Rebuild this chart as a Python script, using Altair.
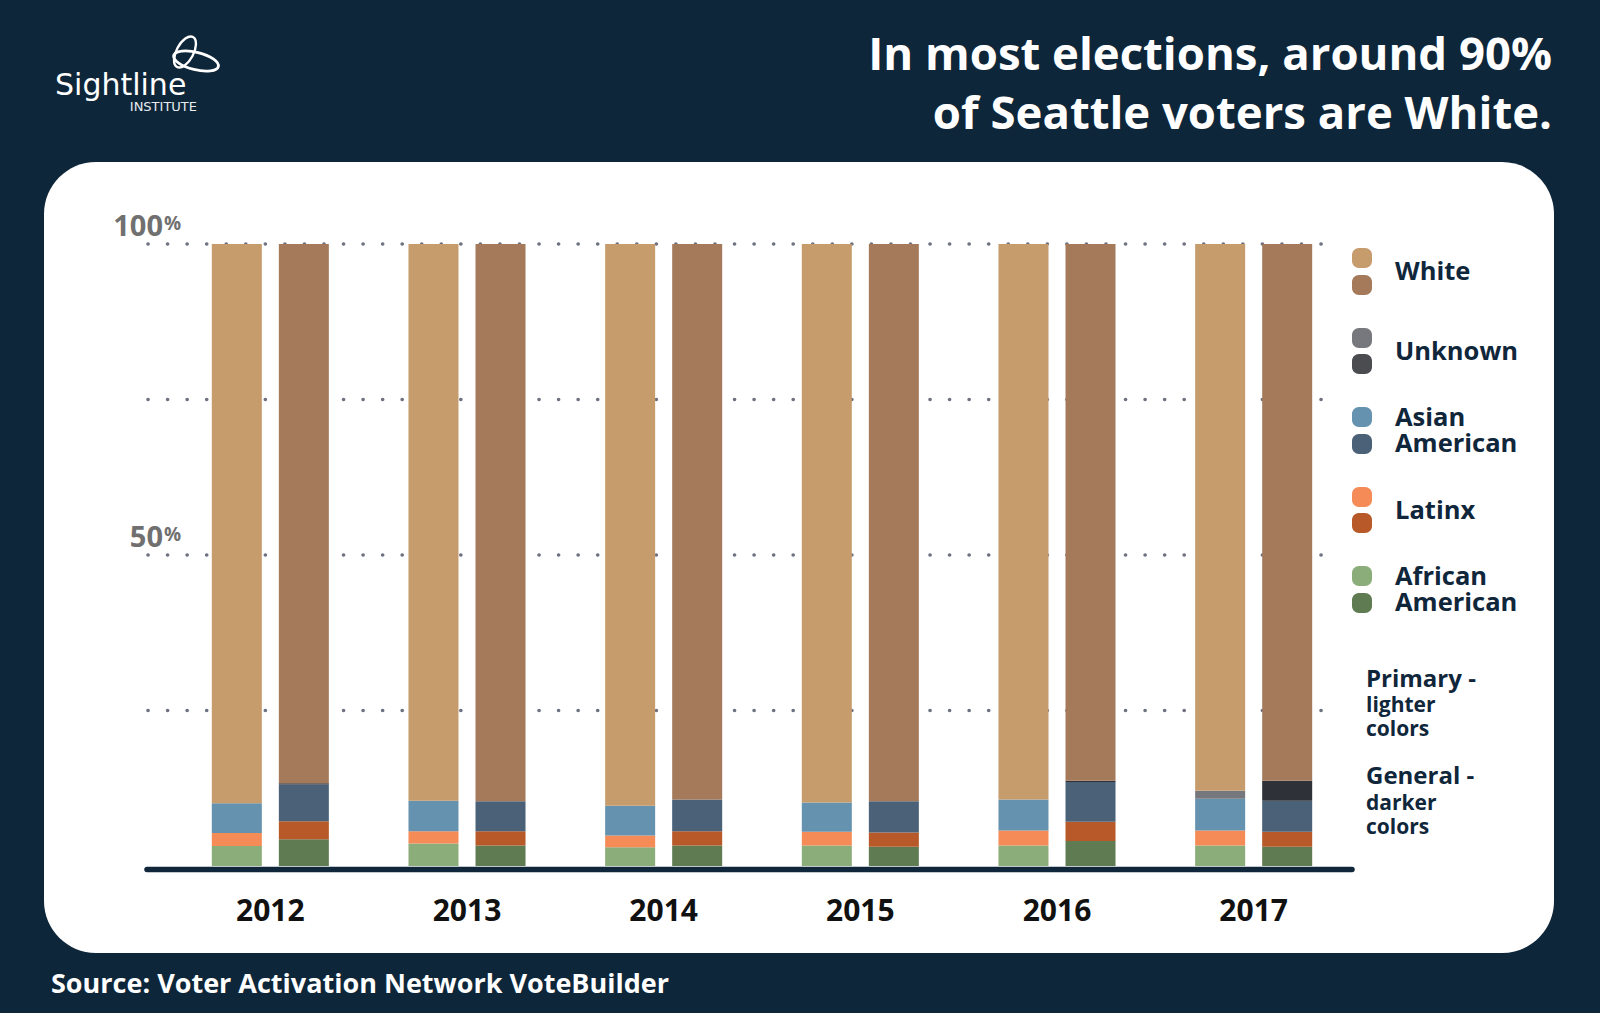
import altair as alt
import pandas as pd

# ---------------- data ----------------
years = ["2012", "2013", "2014", "2015", "2016", "2017"]
elections = ["Primary", "General"]
groups = ["African American", "Latinx", "Asian American", "Unknown", "White"]  # bottom -> top

african_primary = [3.2, 3.6, 3.0, 3.3, 3.3, 3.3]
latinx_primary = [2.1, 2.0, 1.9, 2.2, 2.4, 2.4]
asian_primary = [4.8, 4.9, 4.8, 4.7, 5.0, 5.1]
unknown_primary = [0.0, 0.0, 0.0, 0.0, 0.0, 1.3]
white_primary = [89.9, 89.5, 90.3, 89.8, 89.3, 87.9]

african_general = [4.3, 3.3, 3.3, 3.1, 4.0, 3.1]
latinx_general = [2.9, 2.3, 2.3, 2.3, 3.1, 2.4]
asian_general = [5.9, 4.8, 5.1, 5.0, 6.4, 5.0]
unknown_general = [0.2, 0.0, 0.0, 0.0, 0.2, 3.2]
white_general = [86.7, 89.6, 89.3, 89.6, 86.3, 86.3]

gridline_values = [25, 50, 75, 100]
axis_label_values = [100, 50]

title_lines = ["In most elections, around 90%", "of Seattle voters are White."]
source_text = "Source: Voter Activation Network VoteBuilder"

series = {
    ("African American", "Primary"): african_primary,
    ("Latinx", "Primary"): latinx_primary,
    ("Asian American", "Primary"): asian_primary,
    ("Unknown", "Primary"): unknown_primary,
    ("White", "Primary"): white_primary,
    ("African American", "General"): african_general,
    ("Latinx", "General"): latinx_general,
    ("Asian American", "General"): asian_general,
    ("Unknown", "General"): unknown_general,
    ("White", "General"): white_general,
}

rows = []
for (g, e), vals in series.items():
    for y, v in zip(years, vals):
        rows.append({"year": y, "election": e, "group": g, "value": v,
                     "rank": groups.index(g), "key": f"{g}|{e}"})
df = pd.DataFrame(rows)

# ---------------- styles ----------------
BG = "#0e2639"
NAVY = "#10263a"
colors = {
    "White|Primary": "#c69c6d", "White|General": "#a47a5a",
    "Unknown|Primary": "#77787d", "Unknown|General": "#2f3138",
    "Asian American|Primary": "#6592ae", "Asian American|General": "#4a6178",
    "Latinx|Primary": "#f58c57", "Latinx|General": "#b75928",
    "African American|Primary": "#8bad7a", "African American|General": "#5f7b52",
}

W, H = 1180, 622
OX, OY = 172, 244  # plot origin on page

yscale = alt.Scale(domain=[0, 100], nice=False, zero=True)
xscale = alt.Scale(paddingInner=0, paddingOuter=0)


def px(x):
    return x - OX


def py(y):
    return y - OY


def label(text, x, y, size, color, font, weight="bold", align="left", baseline="middle"):
    return alt.Chart(pd.DataFrame({"t": [text]})).mark_text(
        align=align, baseline=baseline, font=font, fontSize=size,
        fontWeight=weight, color=color
    ).encode(text="t:N", x=alt.value(px(x)), y=alt.value(py(y)))


layers = []

# white rounded panel
layers.append(
    alt.Chart(pd.DataFrame({"a": [0]})).mark_rect(color="white", cornerRadius=52).encode(
        x=alt.value(px(44)), x2=alt.value(px(1554)), y=alt.value(py(162)), y2=alt.value(py(953))
    )
)

# dotted gridlines
layers.append(
    alt.Chart(pd.DataFrame({"v": gridline_values})).mark_rule(
        color="#6d7180", strokeWidth=3.6, strokeCap="round", strokeDash=[0.1, 19.45]
    ).encode(
        y=alt.Y("v:Q", scale=yscale, axis=None),
        x=alt.value(px(148)), x2=alt.value(px(1328)),
    )
)

# stacked bars
layers.append(
    alt.Chart(df).mark_bar().encode(
        x=alt.X("year:N", scale=xscale, axis=None, sort=years),
        xOffset=alt.XOffset("election:N", sort=elections,
                            scale=alt.Scale(domain=elections, paddingInner=0.254, paddingOuter=0.594)),
        y=alt.Y("value:Q", stack="zero", scale=yscale, axis=None),
        color=alt.Color("key:N", scale=alt.Scale(domain=list(colors.keys()), range=list(colors.values())),
                        legend=None),
        order=alt.Order("rank:Q", sort="ascending"),
    )
)

# baseline
layers.append(
    alt.Chart(pd.DataFrame({"a": [0]})).mark_rule(color=NAVY, strokeWidth=5.5, strokeCap="round").encode(
        x=alt.value(px(147)), x2=alt.value(px(1352)), y=alt.value(py(869.5))
    )
)

# year labels
layers.append(
    alt.Chart(pd.DataFrame({"year": years})).mark_text(
        font="Open Sans", fontSize=30, fontWeight="bold", color="#111111", baseline="middle"
    ).encode(
        x=alt.X("year:N", scale=xscale, axis=None, sort=years),
        y=alt.value(py(912)),
        text="year:N",
    )
)

# y labels (number + small %)
ylab = pd.DataFrame({"v": axis_label_values, "t": [str(v) for v in axis_label_values], "p": ["%"] * 2})
layers.append(
    alt.Chart(ylab).mark_text(font="Open Sans", fontSize=29, fontWeight="bold", color="#707070",
                              align="right", baseline="alphabetic", dy=-8).encode(
        y=alt.Y("v:Q", scale=yscale, axis=None), x=alt.value(px(163)), text="t:N")
)
layers.append(
    alt.Chart(ylab).mark_text(font="Open Sans", fontSize=19, fontWeight="bold", color="#707070",
                              align="left", baseline="alphabetic", dy=-14).encode(
        y=alt.Y("v:Q", scale=yscale, axis=None), x=alt.value(px(164)), text="p:N")
)

# legend dots
legend_dots = [
    ("#c69c6d", 258), ("#a47a5a", 285),
    ("#77787d", 338), ("#4b4c50", 364),
    ("#6592ae", 417), ("#4a6178", 444),
    ("#f58c57", 497), ("#b75928", 523),
    ("#8bad7a", 576), ("#5f7b52", 603),
]
for c, yc in legend_dots:
    layers.append(
        alt.Chart(pd.DataFrame({"a": [0]})).mark_rect(color=c, cornerRadius=7).encode(
            x=alt.value(px(1352)), x2=alt.value(px(1372)), y=alt.value(py(yc - 10)), y2=alt.value(py(yc + 10))
        )
    )

legend_labels = [("White", 272), ("Unknown", 352), ("Asian", 418), ("American", 444),
                 ("Latinx", 511), ("African", 577), ("American", 603)]
for t, yc in legend_labels:
    layers.append(label(t, 1395, yc, 25.5, NAVY, "Open Sans"))

notes = [("Primary -", 680, 24), ("lighter", 706, 21), ("colors", 730, 21),
         ("General -", 777, 24), ("darker", 804, 21), ("colors", 828, 21)]
for t, yc, s in notes:
    layers.append(label(t, 1366, yc, s, NAVY, "Open Sans"))

# title, source
layers.append(label(title_lines[0], 1552, 69.5, 45.5, "white", "Open Sans", align="right", baseline="alphabetic"))
layers.append(label(title_lines[1], 1552, 128.5, 45.5, "white", "Open Sans", align="right", baseline="alphabetic"))
layers.append(label(source_text, 51, 993, 27, "white", "Open Sans", align="left", baseline="alphabetic"))

# logo
layers.append(label("Sightline", 55, 95, 30, "white", "DejaVu Sans", weight="normal", baseline="alphabetic"))
layers.append(label("INSTITUTE", 197, 111, 13, "#e8ecf0", "DejaVu Sans", weight="normal",
                    align="right", baseline="alphabetic"))


def ellipse_path(b):
    k = 0.5523
    a = 1.0
    return (f"M {a} 0 C {a} {k*b:.4f} {k*a:.4f} {b} 0 {b} "
            f"C {-k*a:.4f} {b} {-a} {k*b:.4f} {-a} 0 "
            f"C {-a} {-k*b:.4f} {-k*a:.4f} {-b} 0 {-b} "
            f"C {k*a:.4f} {-b} {a} {-k*b:.4f} {a} 0 Z")


for cx, cy, semi, ratio, ang, sw in [(185, 52, 17, 0.5, 118, 2.4), (196, 61, 23, 0.38, 14, 2.8)]:
    layers.append(
        alt.Chart(pd.DataFrame({"a": [0]})).mark_point(
            shape=ellipse_path(ratio), filled=False, stroke="white", strokeWidth=sw,
            size=(2 * semi) ** 2, angle=ang, opacity=1
        ).encode(x=alt.value(px(cx)), y=alt.value(py(cy)))
    )

chart = alt.layer(*layers).properties(
    width=W, height=H,
    autosize=alt.AutoSizeParams(type="none"),
    padding={"left": OX, "top": OY, "right": 1600 - OX - W, "bottom": 1013 - OY - H},
    background=BG,
).configure_view(stroke=None)

chart.save("out.html", embed_options={"renderer": "svg", "actions": False})
